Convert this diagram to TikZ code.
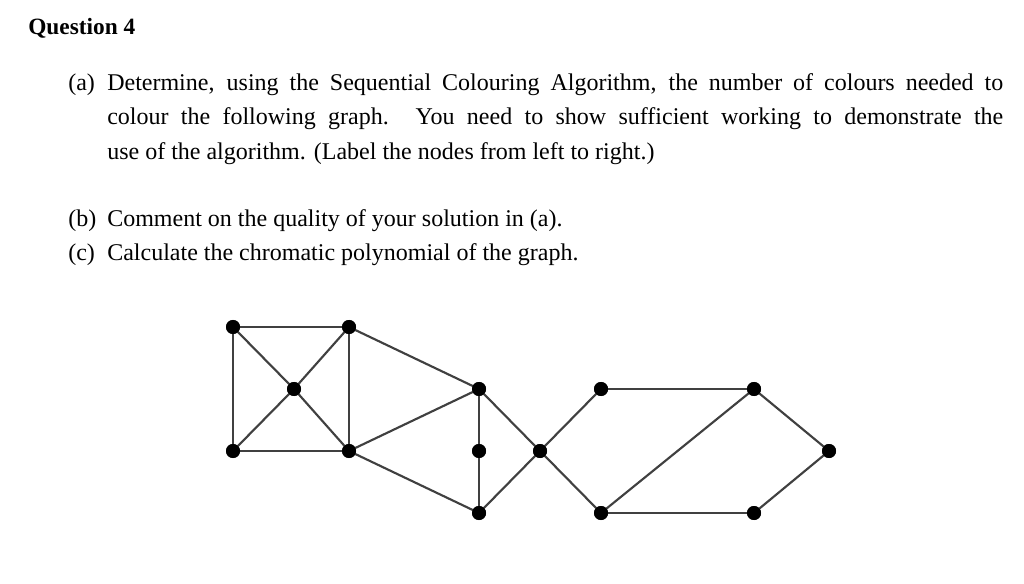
\documentclass[tikz,border=0pt]{standalone}
\usepackage{fontspec}
\setmainfont{Liberation Serif}
\begin{document}
\begin{tikzpicture}[x=0.75pt,y=-0.75pt,
  txt/.style={anchor=base west,inner sep=0pt,font=\fontsize{18}{22}\selectfont},
  vtx/.style={circle,fill=black,inner sep=0pt,minimum size=10.5pt},
  edge/.style={draw=black!75,line width=1.6pt}]
\useasboundingbox (0,0) rectangle (1024,584);
\node[txt,font=\fontsize{17.5}{22}\selectfont\bfseries] (q) at (28,35) {Question 4};
\node[txt] (la) at (68,91) {(a)};
\node[txt] (l1) at (107,91) {\makebox[672pt][s]{Determine, using the Sequential Colouring Algorithm, the number of colours needed to}};
\node[txt] (l2) at (107,125) {\makebox[672pt][s]{colour the following graph. You need to show sufficient working to demonstrate the}};
\node[txt] (l3) at (107,160) {use of the algorithm. (Label the nodes from left to right.)};
\node[txt] (lb) at (68,227) {(b)};
\node[txt] (tb) at (107,227) {Comment on the quality of your solution in (a).};
\node[txt] (lc) at (68,261) {(c)};
\node[txt] (tc) at (107,261) {Calculate the chromatic polynomial of the graph.};
\node[vtx] (A) at (233,327) {};
\node[vtx] (B) at (349,327) {};
\node[vtx] (C) at (294,389) {};
\node[vtx] (D) at (233,451) {};
\node[vtx] (E) at (349,451) {};
\node[vtx] (F) at (479,389) {};
\node[vtx] (G) at (479,451) {};
\node[vtx] (H) at (479,513) {};
\node[vtx] (I) at (540,451) {};
\node[vtx] (J) at (601,389) {};
\node[vtx] (K) at (754,389) {};
\node[vtx] (L) at (829,451) {};
\node[vtx] (M) at (601,513) {};
\node[vtx] (N) at (754,513) {};
\begin{scope}[on background layer/.style={}]
\foreach \a/\b in {A/B,A/D,B/E,D/E,A/C,C/E,B/C,C/D,B/F,E/F,E/H,F/G,G/H,F/I,H/I,I/J,J/K,K/L,L/N,N/M,M/I,M/K}
  \draw[edge] (\a.center) -- (\b.center);
\end{scope}
\foreach \v in {A,B,C,D,E,F,G,H,I,J,K,L,M,N}
  \fill (\v) circle (5.25pt);
\end{tikzpicture}
\end{document}
